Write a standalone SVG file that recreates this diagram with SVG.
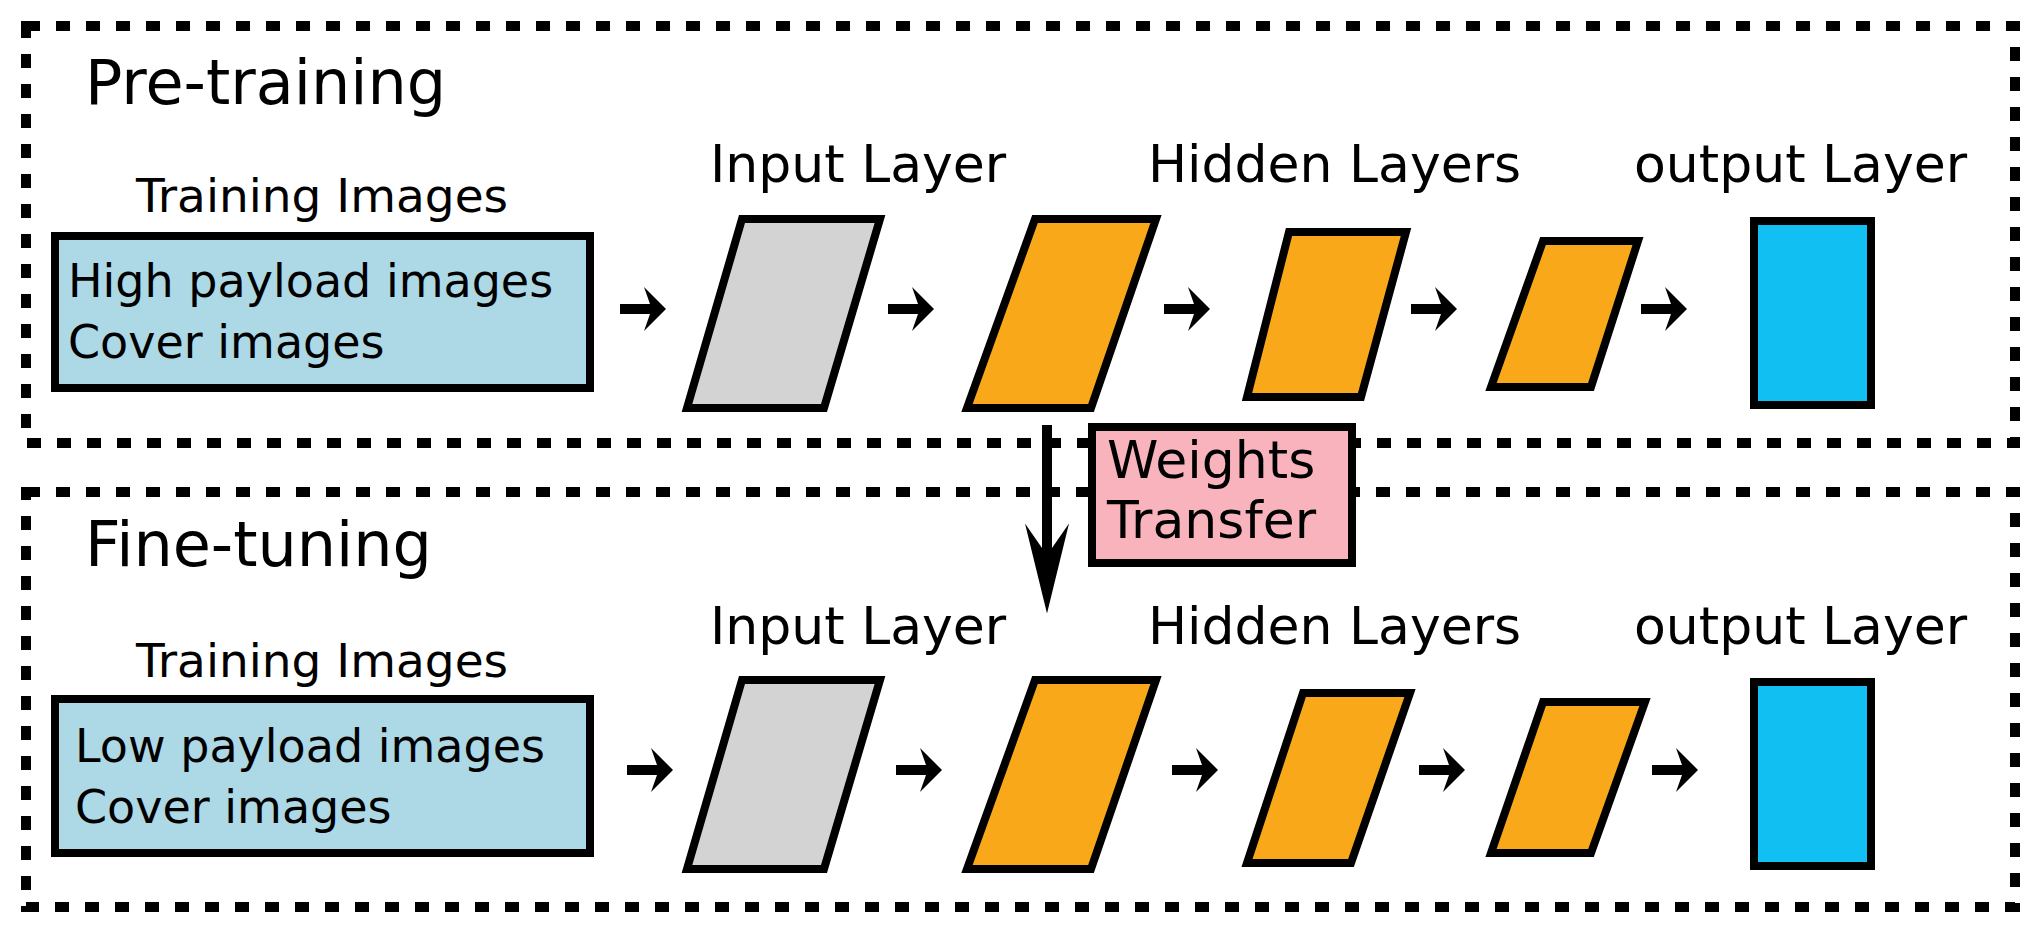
<svg xmlns="http://www.w3.org/2000/svg" width="2041" height="932" viewBox="0 0 2041 932">
<style>
text{font-family:"DejaVu Sans",sans-serif;fill:#000}
.frame{fill:none;stroke:#000;stroke-width:10;stroke-dasharray:14 16}
.ln{stroke:#000;stroke-width:8}
.gray{fill:#D3D3D3}.org{fill:#F8A818}.blue{fill:#12BFF2}.lb{fill:#ADD8E6}.pink{fill:#F9B3BD}
.t62{font-size:62px}.t47{font-size:47px}.t52{font-size:52px}.t46{font-size:46px}
</style>
<defs>
<path id="arr" d="M0,-5 H30 L24,-22 L46,0 L24,22 L30,5 H0 Z" fill="#000"/>
</defs>
<g id="pretraining">
<rect class="frame" x="26" y="26" width="1989" height="417"/>
<text class="t62" x="85" y="104">Pre-training</text>
</g>
<g id="finetuning">
<rect class="frame" x="26" y="492" width="1989" height="415"/>
<text class="t62" x="85" y="566">Fine-tuning</text>
</g>
<g id="top-row">
<text class="t47" x="322" y="212" text-anchor="middle">Training Images</text>
<rect class="lb ln" x="55" y="236" width="535" height="152"/>
<text class="t46" x="68" y="297">High payload images</text>
<text class="t46" x="68" y="358">Cover images</text>
<text class="t52" x="710" y="182">Input Layer</text>
<text class="t52" x="1148" y="182">Hidden Layers</text>
<text class="t52" x="1634" y="182">output Layer</text>
<polygon class="gray ln" points="742,219 880,219 824,408 687,408"/>
<polygon class="org ln" points="1035,219 1156,219 1091,408 967,408"/>
<polygon class="org ln" points="1289,232 1406,232 1361,397 1247,397"/>
<polygon class="org ln" points="1543,241 1638,241 1591,387 1491,387"/>
<rect class="blue ln" x="1754" y="221" width="117" height="184"/>
</g>
<g id="bottom-row">
<text class="t47" x="322" y="677" text-anchor="middle">Training Images</text>
<rect class="lb ln" x="55" y="699" width="535" height="154"/>
<text class="t46" x="75" y="762">Low payload images</text>
<text class="t46" x="75" y="823">Cover images</text>
<text class="t52" x="710" y="644">Input Layer</text>
<text class="t52" x="1148" y="644">Hidden Layers</text>
<text class="t52" x="1634" y="644">output Layer</text>
<g transform="translate(0,461)">
<polygon class="gray ln" points="742,219 880,219 824,408 687,408"/>
<polygon class="org ln" points="1035,219 1156,219 1091,408 967,408"/>
<polygon class="org ln" points="1303,232 1410,232 1351,402 1247,402"/>
<polygon class="org ln" points="1543,241 1645,241 1591,392 1491,392"/>
<rect class="blue ln" x="1754" y="221" width="117" height="184"/>
</g>
</g>
<g id="weights-transfer">
<rect class="pink ln" x="1092" y="427" width="260" height="136"/>
<text class="t52" x="1107" y="478">Weights</text>
<text class="t52" x="1107" y="538">Transfer</text>
</g>
<g id="connectors">
<use href="#arr" x="620" y="309"/>
<use href="#arr" x="888" y="309"/>
<use href="#arr" x="1164" y="309"/>
<use href="#arr" x="1411" y="309"/>
<use href="#arr" x="1641" y="309"/>
<use href="#arr" x="627" y="770"/>
<use href="#arr" x="896" y="770"/>
<use href="#arr" x="1172" y="770"/>
<use href="#arr" x="1419" y="770"/>
<use href="#arr" x="1652" y="770"/>
<use href="#arr" transform="translate(1047,425) rotate(90) scale(4.1,1)" />
</g>
</svg>
